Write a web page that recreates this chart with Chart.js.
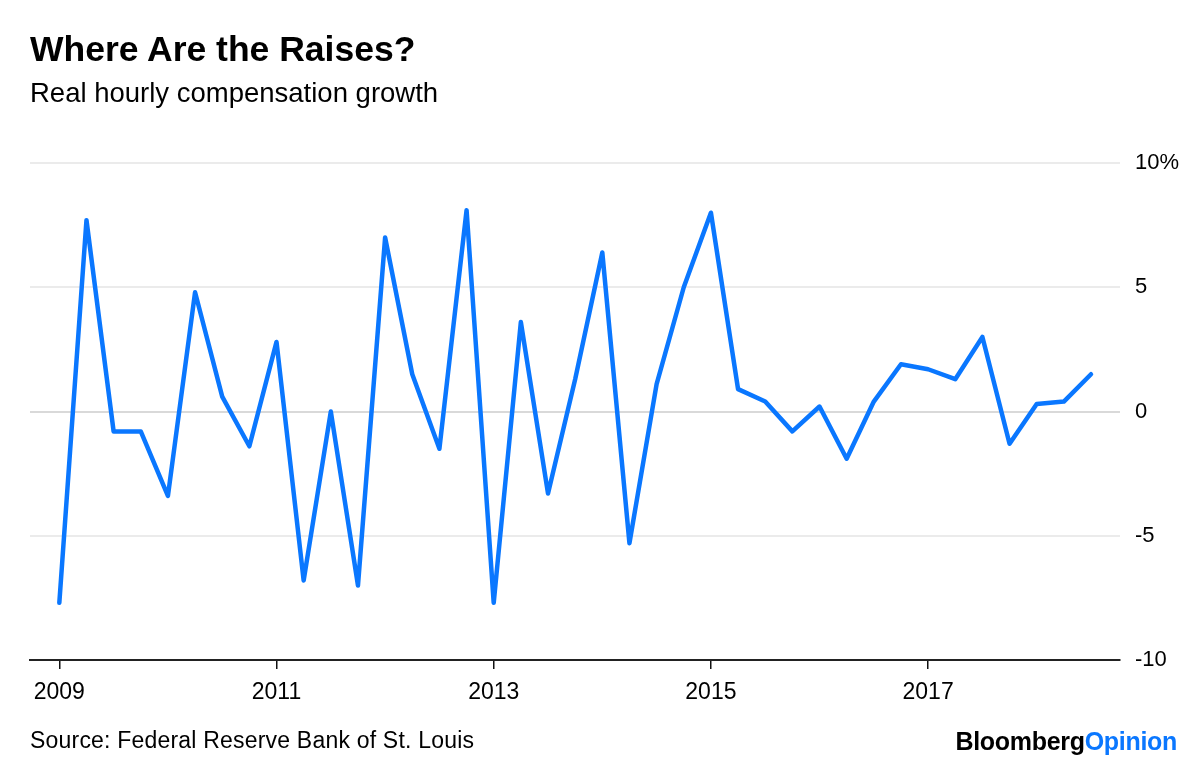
<!DOCTYPE html>
<html>
<head>
<meta charset="utf-8">
<script src="https://cdn.jsdelivr.net/npm/chart.js@4.4.1/dist/chart.umd.min.js"></script>
<style>
    body { margin: 0; background: #fff; font-family: "Liberation Sans", Arial, sans-serif; }
    .wrap { position: relative; width: 1200px; height: 768px; overflow: hidden; }
    #chart { position: absolute; left: 0; top: 0; }
    .txt { position: absolute; line-height: 1; white-space: nowrap; color: #000; }
    .title { left: 30px; top: 32px; font-size: 35.5px; font-weight: bold; }
    .subtitle { left: 30px; top: 79px; font-size: 27.5px; }
    .source { left: 30px; top: 729px; font-size: 23px; letter-spacing: 0.2px; }
    .logo { right: 23px; top: 729px; font-size: 25px; font-weight: bold; letter-spacing: -0.3px; }
    .logo span { color: #0a77ff; }
</style>
</head>
<body>
<div class="wrap">
    <canvas id="chart" width="1200" height="768"></canvas>
    <div class="txt title">Where Are the Raises?</div>
    <div class="txt subtitle">Real hourly compensation growth</div>
    <div class="txt source">Source: Federal Reserve Bank of St. Louis</div>
    <div class="txt logo">Bloomberg<span>Opinion</span></div>
</div>
<script>
// quarterly, starting 2009 Q1
const startYear = 2009
const growth = [
    -7.7, 7.7, -0.8, -0.8,
    -3.4, 4.8, 0.6, -1.4,
    2.8, -6.8, 0.0, -7.0,
    7.0, 1.5, -1.5, 8.1,
    -7.7, 3.6, -3.3, 1.3,
    6.4, -5.3, 1.1, 5.0,
    8.0, 0.9, 0.4, -0.8,
    0.2, -1.9, 0.4, 1.9,
    1.7, 1.3, 3.0, -1.3,
    0.3, 0.4, 1.5]
const yearTicks = [2009, 2011, 2013, 2015, 2017]
const yTicks = [-10, -5, 0, 5, 10]

const points = growth.map((v, i) => ({ x: startYear + i / 4, y: v }))

var ctx = document.getElementById('chart').getContext('2d');

new Chart(ctx, {
    type: 'line',
    data: {
        datasets: [{
            data: points,
            borderColor: '#0a77ff',
            borderWidth: 4.5,
            borderCapStyle: 'round',
            borderJoinStyle: 'round',
            pointRadius: 0,
            tension: 0,
            clip: false
        }]
    },
    options: {
        responsive: false,
        animation: false,
        layout: { padding: { left: 30, top: 163, right: 0, bottom: 58 } },
        plugins: { legend: { display: false }, tooltip: { enabled: false } },
        scales: {
            x: {
                type: 'linear',
                min: 2008.73,
                max: 2018.767,
                afterBuildTicks: (scale) => { scale.ticks = yearTicks.map(v => ({ value: v })) },
                afterFit: (scale) => { scale.height = 50 },
                grid: { drawOnChartArea: false, drawTicks: true, tickLength: 9, color: '#111', lineWidth: 1.5 },
                border: { display: true, color: '#222', width: 2 },
                ticks: {
                    padding: 10,
                    color: '#000',
                    font: { family: 'Liberation Sans', size: 23 },
                    maxRotation: 0,
                    callback: (v) => String(v)
                }
            },
            y: {
                position: 'right',
                min: -10,
                max: 10,
                afterBuildTicks: (scale) => { scale.ticks = yTicks.map(v => ({ value: v })) },
                afterFit: (scale) => { scale.width = 80 },
                grid: {
                    drawTicks: false,
                    lineWidth: 2,
                    color: (c) => {
                        if (c.tick.value === -10) return 'rgba(0,0,0,0)'
                        return c.tick.value === 0 ? '#d9d9d9' : '#ebebeb'
                    }
                },
                border: { display: false },
                ticks: {
                    padding: 15,
                    color: '#000',
                    font: { family: 'Liberation Sans', size: 22 },
                    callback: (v) => v === 10 ? '10%' : String(v)
                }
            }
        }
    }
});
</script>
</body>
</html>
